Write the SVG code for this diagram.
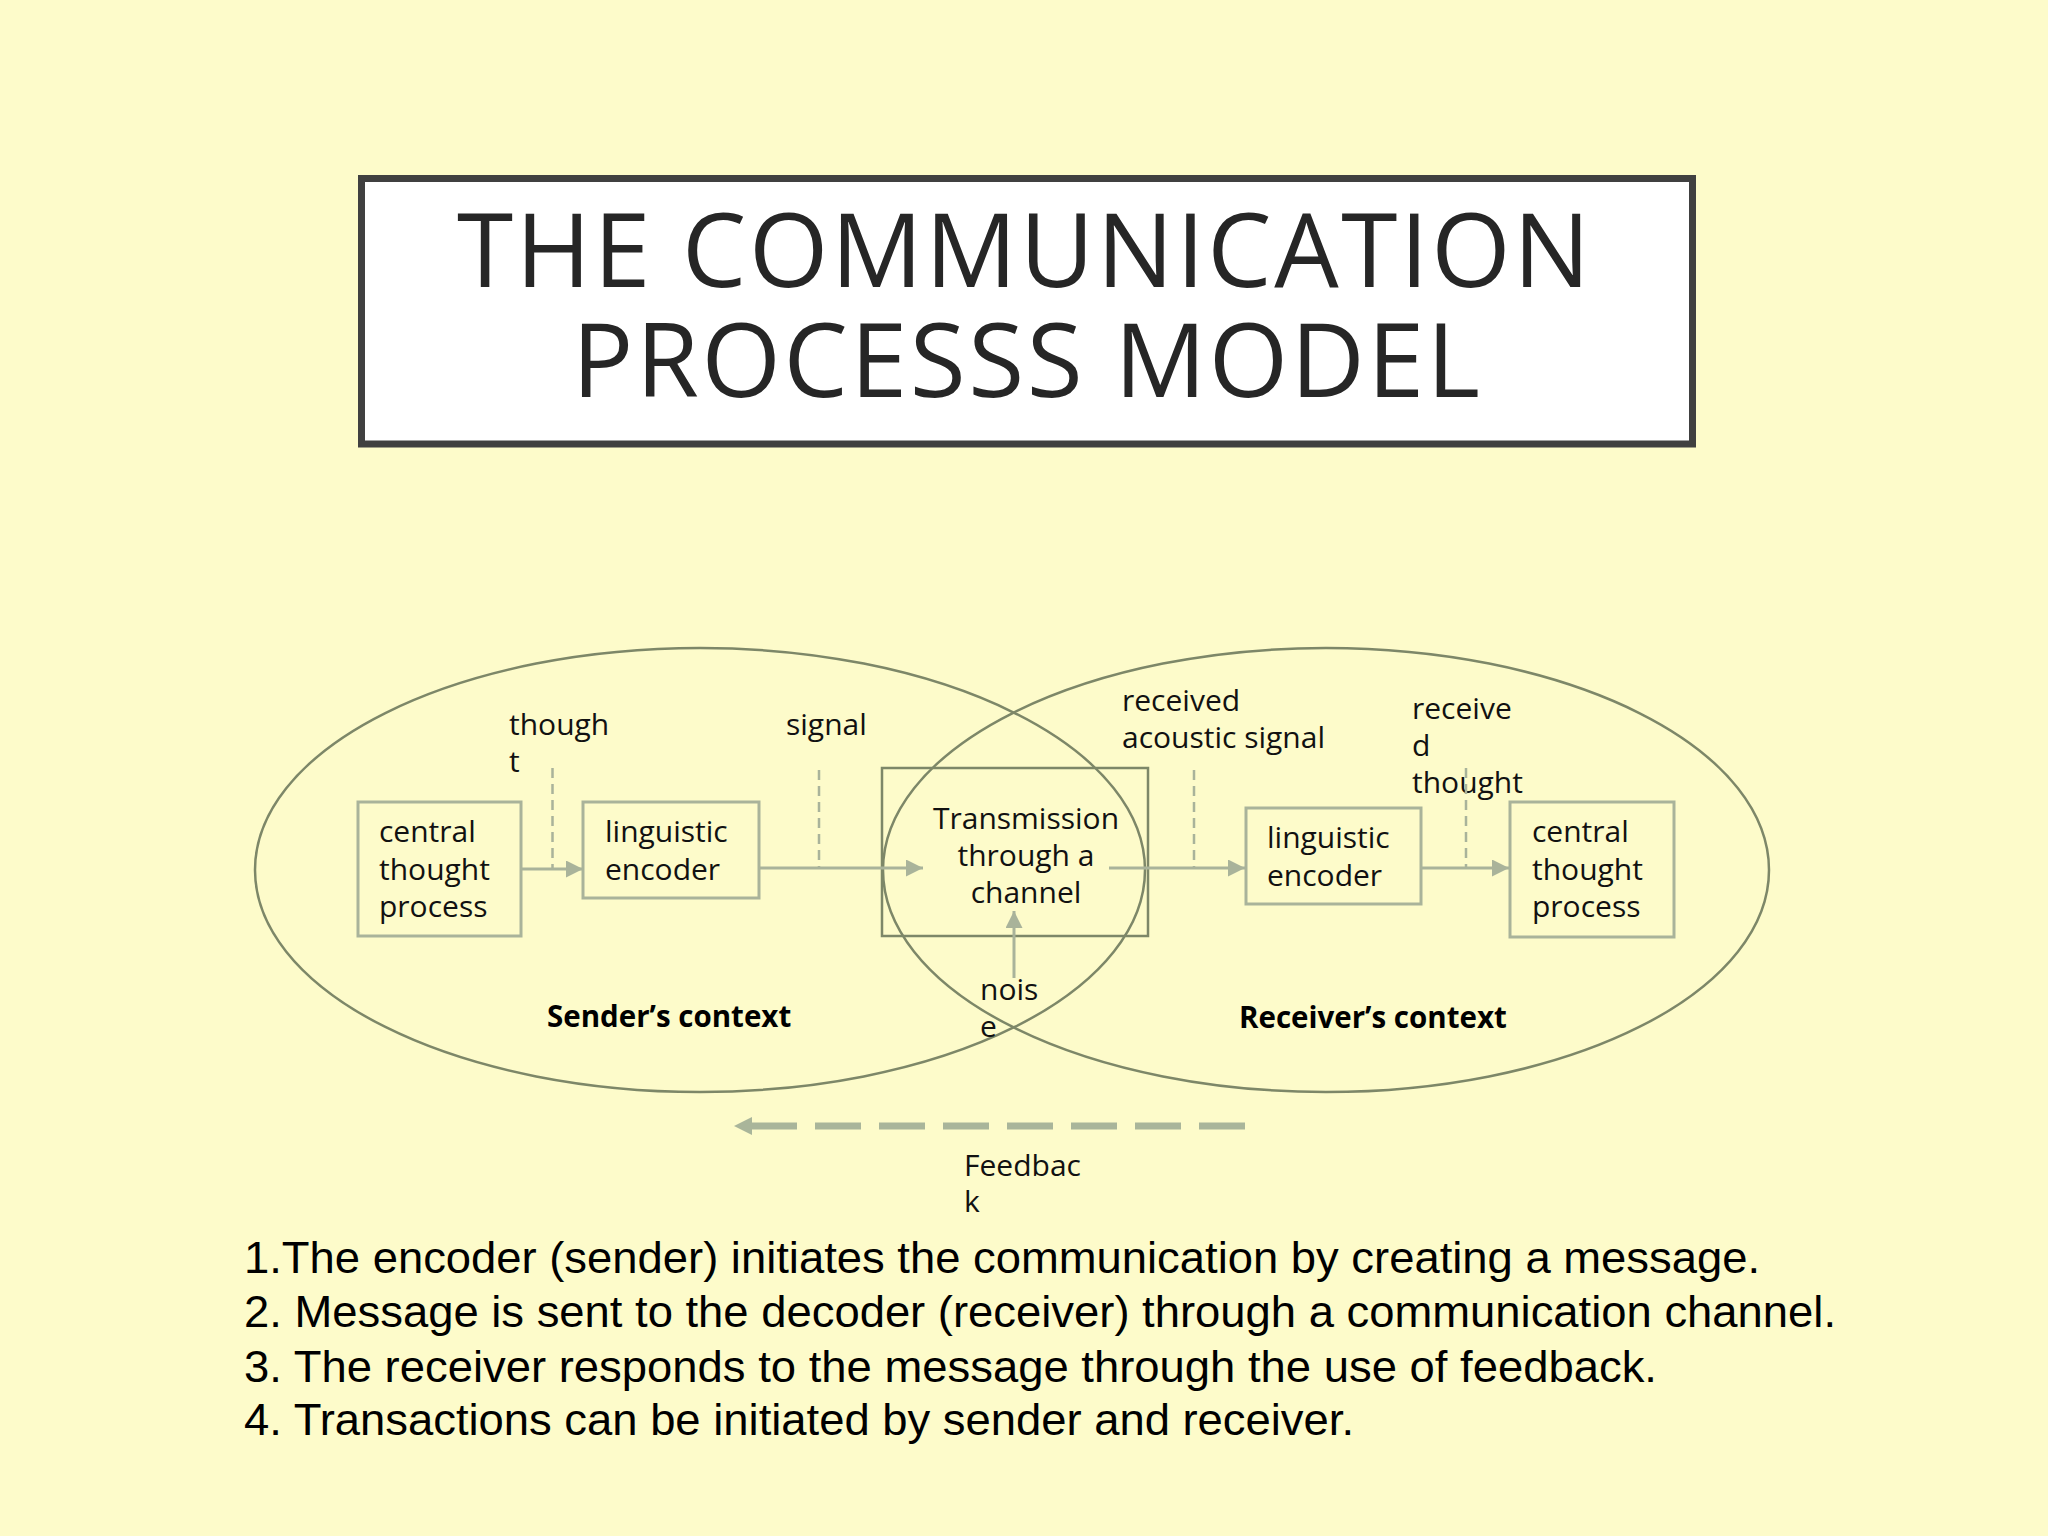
<svg xmlns="http://www.w3.org/2000/svg" width="2048" height="1536" viewBox="0 0 2048 1536">
<defs>
<style>
.bg{fill:#fdfbca}
.ell{fill:none;stroke:#7d8768;stroke-width:2.5}
.box{fill:none;stroke:#a9b39a;stroke-width:3}
.tbox{fill:none;stroke:#7d8768;stroke-width:2.5}
.lbl{font-family:"Open Sans","Noto Sans",sans-serif;font-size:30px;fill:#111}
.bold{font-family:"Open Sans","Noto Sans",sans-serif;font-size:29.5px;font-weight:bold;fill:#000}
.title{font-family:"Open Sans","Noto Sans",sans-serif;font-size:102px;fill:#262626}
.body{font-family:"Liberation Sans",Arial,sans-serif;font-size:45px;fill:#000}
.ln{fill:none;stroke:#a9b39a;stroke-width:3}
.dash{fill:none;stroke:#a9b39a;stroke-width:2.5;stroke-dasharray:10 6}
.fb{fill:none;stroke:#a9b59a;stroke-width:7;stroke-dasharray:46 18}
</style>
<marker id="ah" viewBox="0 0 10 10" refX="10" refY="5" markerWidth="19" markerHeight="17" markerUnits="userSpaceOnUse" orient="auto">
<path d="M0,0 L10,5 L0,10 z" fill="#a9b39a"/>
</marker>
<marker id="ahf" viewBox="0 0 10 10" refX="10" refY="5" markerWidth="20" markerHeight="18" markerUnits="userSpaceOnUse" orient="auto">
<path d="M0,0 L10,5 L0,10 z" fill="#a9b59a"/>
</marker>
</defs>
<rect class="bg" x="0" y="0" width="2048" height="1536"/>

<g id="title">
<rect x="361.5" y="178.5" width="1331" height="265.5" fill="#fff" stroke="#404040" stroke-width="7"/>
<text class="title" x="457" y="287" textLength="1133" lengthAdjust="spacing">THE COMMUNICATION</text>
<text class="title" x="572" y="397" textLength="908" lengthAdjust="spacing">PROCESSS MODEL</text>
</g>

<g id="sender-context">
<ellipse class="ell" cx="700" cy="870" rx="445" ry="222"/>
<text class="bold" x="547" y="1027">Sender’s context</text>
</g>
<g id="receiver-context">
<ellipse class="ell" cx="1326" cy="870" rx="443" ry="222"/>
<text class="bold" x="1239" y="1028">Receiver’s context</text>
</g>

<g id="sender-central">
<rect class="box" x="358" y="802" width="163" height="134"/>
<text class="lbl" x="379" y="842">central</text>
<text class="lbl" x="379" y="880">thought</text>
<text class="lbl" x="379" y="917">process</text>
</g>
<g id="sender-encoder">
<rect class="box" x="583" y="802" width="176" height="96"/>
<text class="lbl" x="605" y="842">linguistic</text>
<text class="lbl" x="605" y="880">encoder</text>
</g>
<g id="transmission">
<rect class="tbox" x="882" y="768" width="266" height="168"/>
<text class="lbl" x="1026" y="829" text-anchor="middle">Transmission</text>
<text class="lbl" x="1026" y="866" text-anchor="middle">through a</text>
<text class="lbl" x="1026" y="903" text-anchor="middle">channel</text>
</g>
<g id="receiver-encoder">
<rect class="box" x="1246" y="808" width="175" height="96"/>
<text class="lbl" x="1267" y="848">linguistic</text>
<text class="lbl" x="1267" y="886">encoder</text>
</g>
<g id="receiver-central">
<rect class="box" x="1510" y="802" width="164" height="135"/>
<text class="lbl" x="1532" y="842">central</text>
<text class="lbl" x="1532" y="880">thought</text>
<text class="lbl" x="1532" y="917">process</text>
</g>

<g id="labels">
<text class="lbl" x="509" y="735">though</text>
<text class="lbl" x="509" y="772">t</text>
<text class="lbl" x="786" y="735">signal</text>
<text class="lbl" x="1122" y="711">received</text>
<text class="lbl" x="1122" y="748">acoustic signal</text>
<text class="lbl" x="1412" y="719">receive</text>
<text class="lbl" x="1412" y="756">d</text>
<text class="lbl" x="1412" y="793">thought</text>
<text class="lbl" x="980" y="1000">nois</text>
<text class="lbl" x="980" y="1037">e</text>
<text class="lbl" x="964" y="1176">Feedbac</text>
<text class="lbl" x="964" y="1212">k</text>
</g>

<g id="connectors">
<line class="dash" x1="552.5" y1="768" x2="552.5" y2="869"/>
<line class="dash" x1="819" y1="770" x2="819" y2="869"/>
<line class="dash" x1="1194" y1="770" x2="1194" y2="868"/>
<line class="dash" x1="1466" y1="768" x2="1466" y2="868"/>
<line class="ln" x1="521" y1="869" x2="583" y2="869" marker-end="url(#ah)"/>
<line class="ln" x1="759" y1="868" x2="923" y2="868" marker-end="url(#ah)"/>
<line class="ln" x1="1109" y1="868" x2="1245" y2="868" marker-end="url(#ah)"/>
<line class="ln" x1="1421" y1="868" x2="1509" y2="868" marker-end="url(#ah)"/>
<line class="ln" x1="1014" y1="978" x2="1014" y2="911" marker-end="url(#ah)"/>
<line class="fb" x1="1245" y1="1126" x2="734" y2="1126" marker-end="url(#ahf)"/>
</g>

<g id="notes">
<text class="body" x="244" y="1273" textLength="1516" lengthAdjust="spacingAndGlyphs">1.The encoder (sender) initiates the communication by creating a message.</text>
<text class="body" x="244" y="1327" textLength="1592" lengthAdjust="spacingAndGlyphs">2. Message is sent to the decoder (receiver) through a communication channel.</text>
<text class="body" x="244" y="1382" textLength="1413" lengthAdjust="spacingAndGlyphs">3. The receiver responds to the message through the use of feedback.</text>
<text class="body" x="244" y="1435" textLength="1110" lengthAdjust="spacingAndGlyphs">4. Transactions can be initiated by sender and receiver.</text>
</g>
</svg>
